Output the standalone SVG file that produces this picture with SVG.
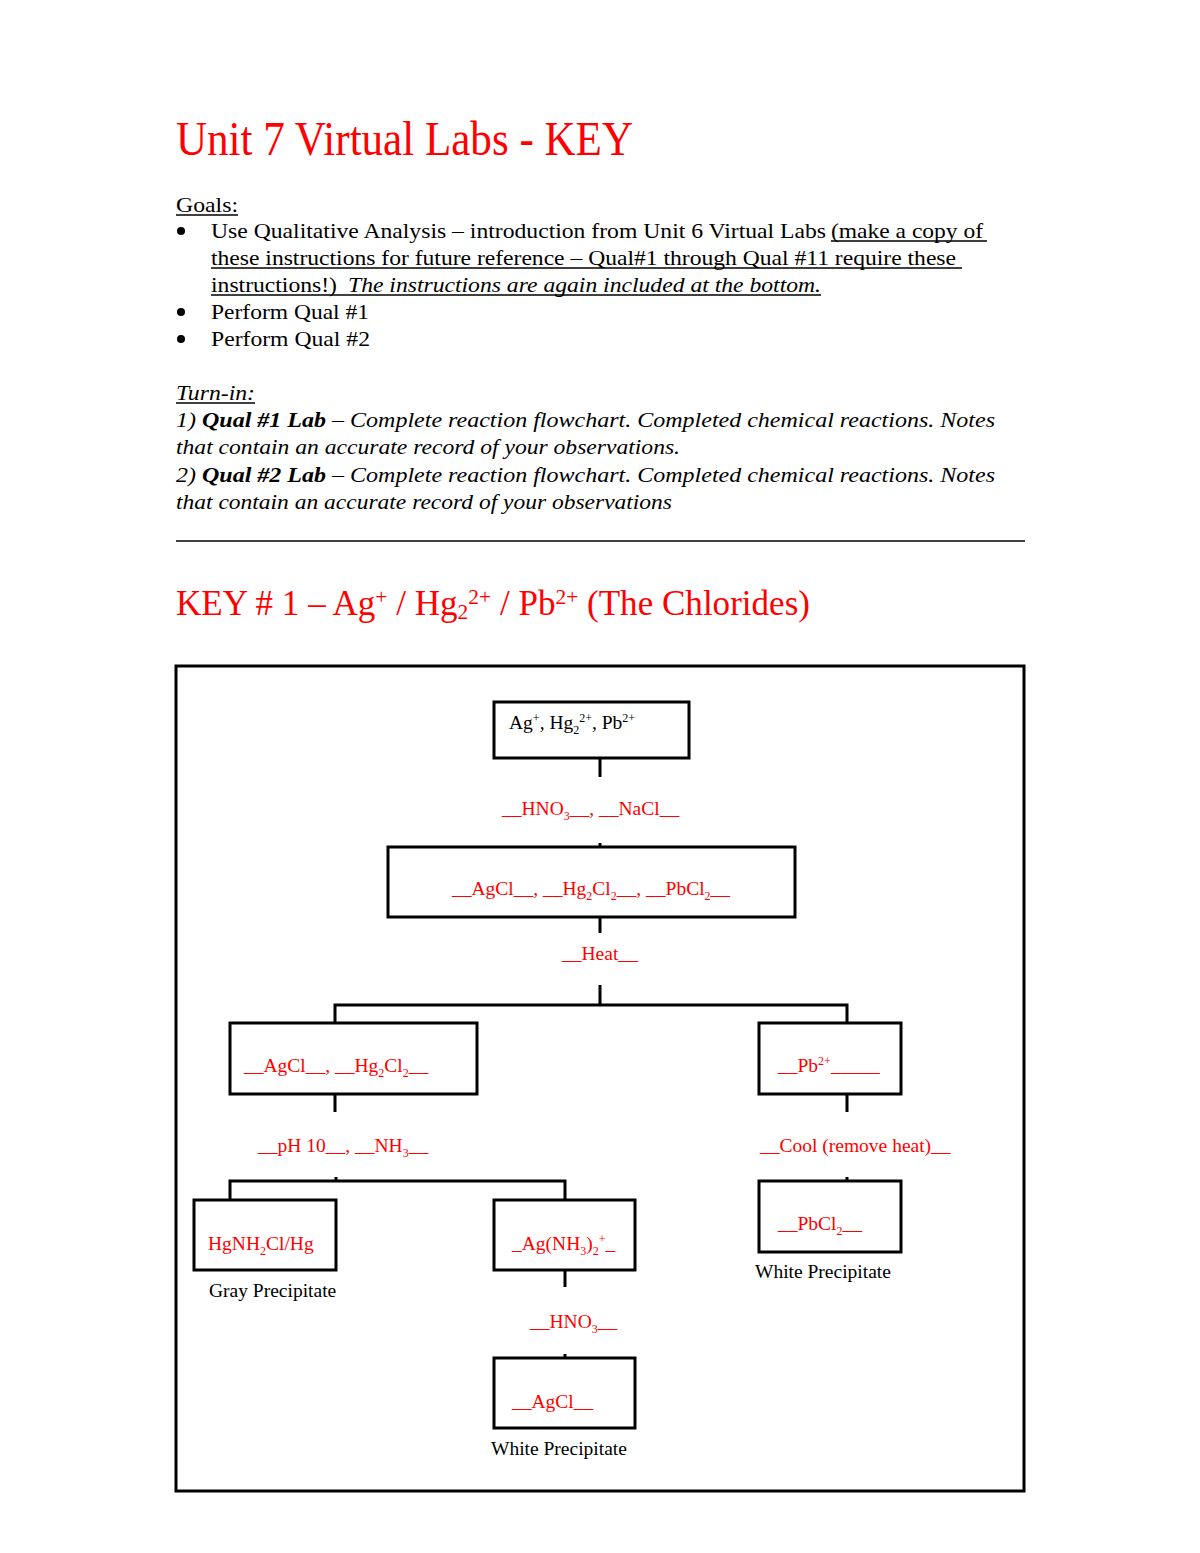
<svg xmlns="http://www.w3.org/2000/svg" width="1200" height="1553" viewBox="0 0 1200 1553">
<style>
text{font-family:"Liberation Serif","Times New Roman",serif;}
.body{font-size:22px;fill:#000;}
.it{font-style:italic;}
.bi{font-style:italic;font-weight:bold;}
.red{fill:#ff0000;}
.dg{font-size:19.5px;}
.sub{font-size:12px;}
.ul{stroke:#000;stroke-width:1.3;}
.box{fill:#fff;stroke:#000;stroke-width:3;}
.con{stroke:#000;stroke-width:3;fill:none;}
</style>
<rect width="1200" height="1553" fill="#fff"/>
<g id="header">
<text x="176" y="155" class="red" font-size="48" textLength="457" lengthAdjust="spacingAndGlyphs">Unit 7 Virtual Labs - KEY</text>
<text x="176" y="212" class="body" textLength="62" lengthAdjust="spacingAndGlyphs">Goals:</text>
<line x1="176" y1="215" x2="238" y2="215" class="ul"/>
<circle cx="181" cy="231" r="4" fill="#000"/>
<text x="211" y="238" class="body" textLength="615" lengthAdjust="spacingAndGlyphs">Use Qualitative Analysis – introduction from Unit 6 Virtual Labs</text>
<text x="831" y="238" class="body" textLength="152" lengthAdjust="spacingAndGlyphs">(make a copy of</text>
<line x1="831" y1="241" x2="987" y2="241" class="ul"/>
<text x="211" y="265" class="body" textLength="745" lengthAdjust="spacingAndGlyphs">these instructions for future reference – Qual#1 through Qual #11 require these</text>
<line x1="211" y1="268" x2="962" y2="268" class="ul"/>
<text x="211" y="292" class="body" textLength="126" lengthAdjust="spacingAndGlyphs">instructions!)</text>
<text x="348" y="292" class="body it" textLength="473" lengthAdjust="spacingAndGlyphs">The instructions are again included at the bottom.</text>
<line x1="211" y1="295" x2="821" y2="295" class="ul"/>
<circle cx="181" cy="312" r="4" fill="#000"/>
<text x="211" y="319" class="body" textLength="158" lengthAdjust="spacingAndGlyphs">Perform Qual #1</text>
<circle cx="181" cy="339" r="4" fill="#000"/>
<text x="211" y="346" class="body" textLength="159" lengthAdjust="spacingAndGlyphs">Perform Qual #2</text>
<text x="176" y="400" class="body it" textLength="79" lengthAdjust="spacingAndGlyphs">Turn-in:</text>
<line x1="176" y1="403" x2="255" y2="403" class="ul"/>
<text x="176" y="427" class="body it" textLength="819" lengthAdjust="spacingAndGlyphs">1) <tspan class="bi">Qual #1 Lab</tspan> – Complete reaction flowchart.  Completed chemical reactions.   Notes</text>
<text x="176" y="454" class="body it" textLength="504" lengthAdjust="spacingAndGlyphs">that contain an accurate record of your observations.</text>
<text x="176" y="482" class="body it" textLength="819" lengthAdjust="spacingAndGlyphs">2) <tspan class="bi">Qual #2 Lab</tspan> – Complete reaction flowchart.  Completed chemical reactions.   Notes</text>
<text x="176" y="509" class="body it" textLength="496" lengthAdjust="spacingAndGlyphs">that contain an accurate record of your observations</text>
<line x1="176" y1="541" x2="1025" y2="541" stroke="#000" stroke-width="1.5"/>
<text x="176" y="615" class="red" font-size="36" textLength="634" lengthAdjust="spacingAndGlyphs">KEY # 1 – Ag<tspan font-size="22" dy="-11">+</tspan><tspan dy="11"> / Hg</tspan><tspan font-size="22" dy="4">2</tspan><tspan font-size="22" dy="-15">2+</tspan><tspan dy="11"> / Pb</tspan><tspan font-size="22" dy="-11">2+</tspan><tspan dy="11"> (The Chlorides)</tspan></text>
</g>
<rect x="176" y="666" width="848" height="825" fill="none" stroke="#000" stroke-width="3"/>
<g id="connectors">
<line x1="600" y1="758" x2="600" y2="777" class="con"/>
<line x1="600" y1="843" x2="600" y2="847" class="con"/>
<line x1="600" y1="917" x2="600" y2="933" class="con"/>
<line x1="600" y1="985" x2="600" y2="1005" class="con"/>
<polyline points="335,1023 335,1005 847,1005 847,1023" class="con"/>
<line x1="335" y1="1094" x2="335" y2="1112" class="con"/>
<line x1="847" y1="1094" x2="847" y2="1112" class="con"/>
<line x1="847" y1="1177" x2="847" y2="1181" class="con"/>
<line x1="336" y1="1177" x2="336" y2="1181" class="con"/>
<polyline points="230,1200 230,1181 565,1181 565,1200" class="con"/>
<line x1="565" y1="1270" x2="565" y2="1287" class="con"/>
<line x1="565" y1="1354" x2="565" y2="1358" class="con"/>
</g>
<g id="labels">
<text x="502" y="815" class="dg red">__HNO<tspan class="sub" dy="5">3</tspan><tspan dy="-5">__, __NaCl__</tspan></text>
<text x="562" y="960" class="dg red">__Heat__</text>
<text x="258" y="1152" class="dg red">__pH 10__, __NH<tspan class="sub" dy="5">3</tspan><tspan dy="-5">__</tspan></text>
<text x="760" y="1152" class="dg red">__Cool (remove heat)__</text>
<text x="530" y="1328" class="dg red">__HNO<tspan class="sub" dy="5">3</tspan><tspan dy="-5">__</tspan></text>
</g>
<g id="node-start">
<rect x="494" y="702" width="195" height="56" class="box"/>
<text x="509" y="729" class="dg">Ag<tspan class="sub" dy="-7">+</tspan><tspan dy="7">, Hg</tspan><tspan class="sub" dy="5">2</tspan><tspan class="sub" dy="-12">2+</tspan><tspan dy="7">, Pb</tspan><tspan class="sub" dy="-7">2+</tspan></text>
</g>
<g id="node-chlorides">
<rect x="388" y="847" width="407" height="70" class="box"/>
<text x="452" y="895" class="dg red">__AgCl__, __Hg<tspan class="sub" dy="5">2</tspan><tspan dy="-5">Cl</tspan><tspan class="sub" dy="5">2</tspan><tspan dy="-5">__, __PbCl</tspan><tspan class="sub" dy="5">2</tspan><tspan dy="-5">__</tspan></text>
</g>
<g id="node-agcl-hg2cl2">
<rect x="230" y="1023" width="247" height="71" class="box"/>
<text x="244" y="1072" class="dg red">__AgCl__, __Hg<tspan class="sub" dy="5">2</tspan><tspan dy="-5">Cl</tspan><tspan class="sub" dy="5">2</tspan><tspan dy="-5">__</tspan></text>
</g>
<g id="node-pb">
<rect x="759" y="1023" width="142" height="71" class="box"/>
<text x="778" y="1072" class="dg red">__Pb<tspan class="sub" dy="-7">2+</tspan><tspan dy="7">_____</tspan></text>
</g>
<g id="node-pbcl2">
<rect x="759" y="1181" width="142" height="71" class="box"/>
<text x="778" y="1230" class="dg red">__PbCl<tspan class="sub" dy="5">2</tspan><tspan dy="-5">__</tspan></text>
<text x="755" y="1278" class="dg">White Precipitate</text>
</g>
<g id="node-hgnh2cl">
<rect x="194" y="1200" width="142" height="70" class="box"/>
<text x="208" y="1250" class="dg red">HgNH<tspan class="sub" dy="5">2</tspan><tspan dy="-5">Cl/Hg</tspan></text>
<text x="209" y="1297" class="dg">Gray Precipitate</text>
</g>
<g id="node-agnh3">
<rect x="494" y="1200" width="141" height="70" class="box"/>
<text x="512" y="1250" class="dg red">_Ag(NH<tspan class="sub" dy="5">3</tspan><tspan dy="-5">)</tspan><tspan class="sub" dy="5">2</tspan><tspan class="sub" dy="-12">+</tspan><tspan dy="7">_</tspan></text>
</g>
<g id="node-agcl">
<rect x="494" y="1358" width="141" height="70" class="box"/>
<text x="512" y="1408" class="dg red">__AgCl__</text>
<text x="491" y="1455" class="dg">White Precipitate</text>
</g>
</svg>
